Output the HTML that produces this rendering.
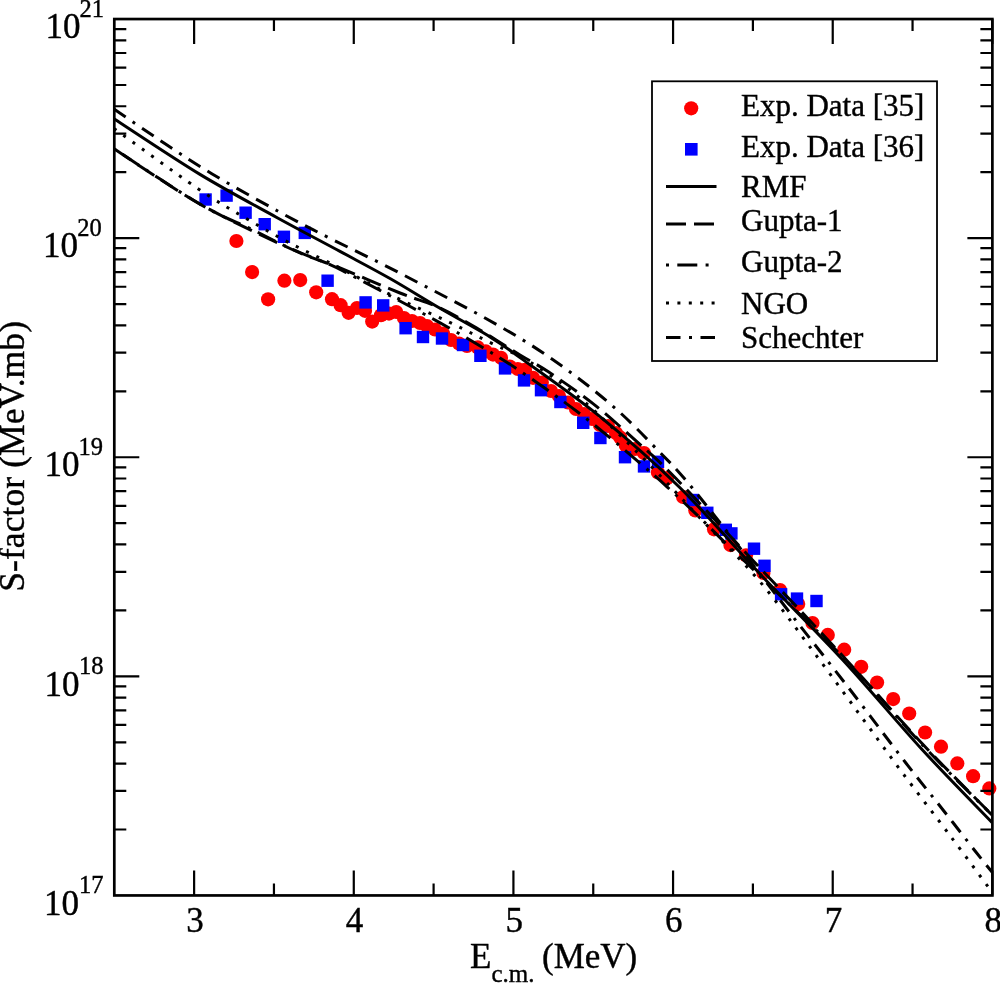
<!DOCTYPE html><html><head><meta charset="utf-8"><style>html,body{margin:0;padding:0;background:#fff;}svg{display:block;will-change:transform;}text{font-family:"Liberation Serif",serif;fill:#000;stroke:#000;stroke-width:0.4;}</style></head><body>
<svg width="1000" height="983" viewBox="0 0 1000 983">
<rect x="0" y="0" width="1000" height="983" fill="#fff"/>
<g fill="#f00"><circle cx="236.4" cy="241" r="7.1"/><circle cx="252.1" cy="272.1" r="7.1"/><circle cx="268.1" cy="299.3" r="7.1"/><circle cx="284.4" cy="280.7" r="7.1"/><circle cx="300.2" cy="280.1" r="7.1"/><circle cx="316.2" cy="292.3" r="7.1"/><circle cx="332" cy="299.2" r="7.1"/><circle cx="340.6" cy="305.2" r="7.1"/><circle cx="348.6" cy="312.8" r="7.1"/><circle cx="357" cy="308" r="7.1"/><circle cx="365" cy="310.8" r="7.1"/><circle cx="372.2" cy="321.6" r="7.1"/><circle cx="381" cy="315.2" r="7.1"/><circle cx="389" cy="313.6" r="7.1"/><circle cx="396.2" cy="312" r="7.1"/><circle cx="404" cy="318" r="7.1"/><circle cx="412" cy="321" r="7.1"/><circle cx="420" cy="323" r="7.1"/><circle cx="427" cy="326" r="7.1"/><circle cx="435" cy="329.5" r="7.1"/><circle cx="443" cy="333.5" r="7.1"/><circle cx="451" cy="340" r="7.1"/><circle cx="459" cy="343.5" r="7.1"/><circle cx="467" cy="346" r="7.1"/><circle cx="477.8" cy="347.4" r="7.1"/><circle cx="485.8" cy="351.4" r="7.1"/><circle cx="493" cy="354.6" r="7.1"/><circle cx="501" cy="357.8" r="7.1"/><circle cx="509.8" cy="366.6" r="7.1"/><circle cx="517.8" cy="369" r="7.1"/><circle cx="525" cy="369.8" r="7.1"/><circle cx="533" cy="377.8" r="7.1"/><circle cx="541.8" cy="382.6" r="7.1"/><circle cx="551" cy="391" r="7.1"/><circle cx="559" cy="396" r="7.1"/><circle cx="568" cy="402.5" r="7.1"/><circle cx="576" cy="409" r="7.1"/><circle cx="584" cy="414" r="7.1"/><circle cx="592" cy="419" r="7.1"/><circle cx="600" cy="425" r="7.1"/><circle cx="608" cy="426" r="7.1"/><circle cx="616" cy="433" r="7.1"/><circle cx="620.2" cy="437.4" r="7.1"/><circle cx="625.8" cy="445.4" r="7.1"/><circle cx="635" cy="449" r="7.1"/><circle cx="644" cy="453" r="7.1"/><circle cx="657.9" cy="472.5" r="7.1"/><circle cx="666.9" cy="478.2" r="7.1"/><circle cx="683.1" cy="497" r="7.1"/><circle cx="695.3" cy="510.5" r="7.1"/><circle cx="714" cy="529.3" r="7.1"/><circle cx="730.4" cy="545.1" r="7.1"/><circle cx="746" cy="555.3" r="7.1"/><circle cx="763.4" cy="573" r="7.1"/><circle cx="780" cy="590" r="7.1"/><circle cx="798.2" cy="604.1" r="7.1"/><circle cx="812.5" cy="623" r="7.1"/><circle cx="827.8" cy="634.9" r="7.1"/><circle cx="844.2" cy="649.7" r="7.1"/><circle cx="861.2" cy="666.8" r="7.1"/><circle cx="877.1" cy="682.5" r="7.1"/><circle cx="893.2" cy="699.1" r="7.1"/><circle cx="909.2" cy="713.5" r="7.1"/><circle cx="925.1" cy="732.5" r="7.1"/><circle cx="941" cy="746.7" r="7.1"/><circle cx="957.3" cy="763.4" r="7.1"/><circle cx="973.1" cy="776.2" r="7.1"/><circle cx="989.3" cy="788.4" r="7.1"/></g>
<g fill="#00f"><rect x="199.4" y="193.3" width="12.4" height="12.4"/><rect x="220.4" y="189.4" width="12.4" height="12.4"/><rect x="239.4" y="206.5" width="12.4" height="12.4"/><rect x="258.5" y="218.0" width="12.4" height="12.4"/><rect x="277.7" y="230.6" width="12.4" height="12.4"/><rect x="298.6" y="226.7" width="12.4" height="12.4"/><rect x="321.4" y="274.5" width="12.4" height="12.4"/><rect x="359.4" y="296.2" width="12.4" height="12.4"/><rect x="377.0" y="299.2" width="12.4" height="12.4"/><rect x="399.4" y="322.0" width="12.4" height="12.4"/><rect x="416.8" y="330.8" width="12.4" height="12.4"/><rect x="435.8" y="332.3" width="12.4" height="12.4"/><rect x="456.8" y="338.8" width="12.4" height="12.4"/><rect x="474.2" y="349.6" width="12.4" height="12.4"/><rect x="498.8" y="362.2" width="12.4" height="12.4"/><rect x="517.8" y="374.2" width="12.4" height="12.4"/><rect x="534.8" y="384.0" width="12.4" height="12.4"/><rect x="554.2" y="395.8" width="12.4" height="12.4"/><rect x="577.0" y="416.6" width="12.4" height="12.4"/><rect x="594.2" y="431.8" width="12.4" height="12.4"/><rect x="618.8" y="451.0" width="12.4" height="12.4"/><rect x="637.8" y="460.2" width="12.4" height="12.4"/><rect x="651.8" y="455.6" width="12.4" height="12.4"/><rect x="686.6" y="493.8" width="12.4" height="12.4"/><rect x="701.1" y="506.6" width="12.4" height="12.4"/><rect x="719.6" y="523.6" width="12.4" height="12.4"/><rect x="725.2" y="527.2" width="12.4" height="12.4"/><rect x="747.8" y="542.5" width="12.4" height="12.4"/><rect x="758.3" y="559.6" width="12.4" height="12.4"/><rect x="774.9" y="588.1" width="12.4" height="12.4"/><rect x="790.8" y="592.4" width="12.4" height="12.4"/><rect x="810.3" y="594.8" width="12.4" height="12.4"/></g>
<g fill="none" stroke="#000" stroke-width="3">
<path d="M114.30 119.00C128.58 128.23 173.00 158.03 200.00 174.40C227.00 190.77 252.97 204.37 276.30 217.20C299.63 230.03 321.05 241.18 340.00 251.40C358.95 261.62 373.33 269.02 390.00 278.50C406.67 287.98 423.33 298.57 440.00 308.30C456.67 318.03 476.67 328.68 490.00 336.90C503.33 345.12 501.67 344.32 520.00 357.60C538.33 370.88 573.33 394.92 600.00 416.60C626.67 438.28 653.33 461.47 680.00 487.70C706.67 513.93 732.87 545.28 760.00 574.00C787.13 602.72 815.87 630.83 842.80 660.00C869.73 689.17 896.73 721.93 921.60 749.00C946.47 776.07 980.27 810.17 992.00 822.40"/>
<path d="M114.30 149.00C128.58 158.17 170.72 187.42 200.00 204.00C229.28 220.58 266.67 237.83 290.00 248.50C313.33 259.17 321.67 260.58 340.00 268.00C358.33 275.42 383.33 286.33 400.00 293.00C416.67 299.67 426.67 301.83 440.00 308.00C453.33 314.17 466.67 322.17 480.00 330.00C493.33 337.83 508.67 348.07 520.00 355.00C531.33 361.93 535.83 363.50 548.00 371.60C560.17 379.70 578.23 391.97 593.00 403.60C607.77 415.23 622.85 429.00 636.60 441.40C650.35 453.80 654.93 456.90 675.50 478.00C696.07 499.10 732.12 538.33 760.00 568.00C787.88 597.67 815.87 626.83 842.80 656.00C869.73 685.17 896.73 716.50 921.60 743.00C946.47 769.50 980.27 803.00 992.00 815.00" stroke-dasharray="20 8"/>
<path d="M114.30 149.00C128.58 158.20 177.05 190.80 200.00 204.20C222.95 217.60 236.73 221.93 252.00 229.40C267.27 236.87 278.63 243.15 291.60 249.00C304.57 254.85 320.07 260.25 329.80 264.50C339.53 268.75 336.30 267.33 350.00 274.50C363.70 281.67 395.75 298.75 412.00 307.50C428.25 316.25 436.00 320.50 447.50 327.00C459.00 333.50 470.08 339.95 481.00 346.50C491.92 353.05 501.92 359.05 513.00 366.30C524.08 373.55 536.50 382.22 547.50 390.00C558.50 397.78 568.47 404.95 579.00 413.00C589.53 421.05 600.37 429.80 610.70 438.30C621.03 446.80 631.62 455.92 641.00 464.00C650.38 472.08 657.23 477.90 667.00 486.80C676.77 495.70 689.48 507.67 699.60 517.40C709.72 527.13 717.63 535.43 727.70 545.20C737.77 554.97 740.82 557.37 760.00 576.00C779.18 594.63 815.87 629.00 842.80 657.00C869.73 685.00 896.73 717.67 921.60 744.00C946.47 770.33 980.27 803.17 992.00 815.00" stroke-dasharray="20 8 3 8" stroke-dashoffset="29"/>
<path d="M114.30 128.70C128.25 138.70 175.95 173.70 198.00 188.70C220.05 203.70 231.77 209.88 246.60 218.70C261.43 227.52 271.43 233.38 287.00 241.60C302.57 249.82 322.00 258.77 340.00 268.00C358.00 277.23 376.72 287.93 395.00 297.00C413.28 306.07 433.80 314.78 449.70 322.40C465.60 330.02 477.02 336.10 490.40 342.70C503.78 349.30 515.07 352.78 530.00 362.00C544.93 371.22 561.67 382.50 580.00 398.00C598.33 413.50 620.00 435.00 640.00 455.00C660.00 475.00 680.03 496.92 700.00 518.00C719.97 539.08 740.58 558.80 759.80 581.50C779.02 604.20 797.07 629.85 815.30 654.20C833.53 678.55 854.63 707.77 869.20 727.60C883.77 747.43 889.23 755.22 902.70 773.20C916.17 791.18 935.12 815.70 950.00 835.50C964.88 855.30 985.00 882.58 992.00 892.00" stroke-dasharray="3 8.4"/>
<path d="M114.30 109.30C128.58 118.83 172.62 149.47 200.00 166.50C227.38 183.53 257.10 199.62 278.60 211.50C300.10 223.38 312.15 229.25 329.00 237.80C345.85 246.35 362.87 254.30 379.70 262.80C396.53 271.30 413.25 280.05 430.00 288.80C446.75 297.55 463.67 306.12 480.20 315.30C496.73 324.48 513.33 333.78 529.20 343.90C545.07 354.02 560.38 364.67 575.40 376.00C590.42 387.33 605.28 399.23 619.30 411.90C633.32 424.57 648.30 440.48 659.50 452.00C670.70 463.52 673.08 465.00 686.50 481.00C699.92 497.00 722.42 525.58 740.00 548.00C757.58 570.42 774.00 592.33 792.00 615.50C810.00 638.67 829.08 662.50 848.00 687.00C866.92 711.50 889.95 742.38 905.50 762.50C921.05 782.62 929.63 792.87 941.30 807.70C952.97 822.53 967.05 840.78 975.50 851.50C983.95 862.22 989.25 868.58 992.00 872.00" stroke-dasharray="14 8.3 3 8.3 14 8.3"/>
</g>
<path d="M194.12 895.45V870.45M194.12 19.05V44.05M353.78 895.45V870.45M353.78 19.05V44.05M513.42 895.45V870.45M513.42 19.05V44.05M673.07 895.45V870.45M673.07 19.05V44.05M832.73 895.45V870.45M832.73 19.05V44.05M992.38 895.45V870.45M992.38 19.05V44.05M273.95 895.45V883.45M273.95 19.05V31.05M433.60 895.45V883.45M433.60 19.05V31.05M593.25 895.45V883.45M593.25 19.05V31.05M752.90 895.45V883.45M752.90 19.05V31.05M912.55 895.45V883.45M912.55 19.05V31.05M114.30 829.49H126.30M992.38 829.49H980.38M114.30 790.91H126.30M992.38 790.91H980.38M114.30 763.54H126.30M992.38 763.54H980.38M114.30 742.31H126.30M992.38 742.31H980.38M114.30 724.96H126.30M992.38 724.96H980.38M114.30 710.29H126.30M992.38 710.29H980.38M114.30 697.58H126.30M992.38 697.58H980.38M114.30 686.38H126.30M992.38 686.38H980.38M114.30 676.35H139.30M992.38 676.35H967.38M114.30 610.39H126.30M992.38 610.39H980.38M114.30 571.81H126.30M992.38 571.81H980.38M114.30 544.44H126.30M992.38 544.44H980.38M114.30 523.21H126.30M992.38 523.21H980.38M114.30 505.86H126.30M992.38 505.86H980.38M114.30 491.19H126.30M992.38 491.19H980.38M114.30 478.48H126.30M992.38 478.48H980.38M114.30 467.28H126.30M992.38 467.28H980.38M114.30 457.25H139.30M992.38 457.25H967.38M114.30 391.29H126.30M992.38 391.29H980.38M114.30 352.71H126.30M992.38 352.71H980.38M114.30 325.34H126.30M992.38 325.34H980.38M114.30 304.11H126.30M992.38 304.11H980.38M114.30 286.76H126.30M992.38 286.76H980.38M114.30 272.09H126.30M992.38 272.09H980.38M114.30 259.38H126.30M992.38 259.38H980.38M114.30 248.18H126.30M992.38 248.18H980.38M114.30 238.15H139.30M992.38 238.15H967.38M114.30 172.19H126.30M992.38 172.19H980.38M114.30 133.61H126.30M992.38 133.61H980.38M114.30 106.24H126.30M992.38 106.24H980.38M114.30 85.01H126.30M992.38 85.01H980.38M114.30 67.66H126.30M992.38 67.66H980.38M114.30 52.99H126.30M992.38 52.99H980.38M114.30 40.28H126.30M992.38 40.28H980.38M114.30 29.08H126.30M992.38 29.08H980.38" stroke="#000" stroke-width="2.2" fill="none"/>
<rect x="114.30" y="19.05" width="878.08" height="876.40" stroke="#000" stroke-width="2.7" fill="none"/>
<text x="194.93" y="932" font-size="35" text-anchor="middle">3</text>
<text x="354.58" y="932" font-size="35" text-anchor="middle">4</text>
<text x="514.22" y="932" font-size="35" text-anchor="middle">5</text>
<text x="673.87" y="932" font-size="35" text-anchor="middle">6</text>
<text x="833.52" y="932" font-size="35" text-anchor="middle">7</text>
<text x="993.17" y="932" font-size="35" text-anchor="middle">8</text>
<text x="45.4" y="38.20" font-size="35">10</text><text x="79.4" y="16.65" font-size="24.5">21</text>
<text x="42.9" y="257.30" font-size="35">10</text><text x="77.2" y="235.75" font-size="24.5">20</text>
<text x="44.4" y="476.40" font-size="35">10</text><text x="78.6" y="454.85" font-size="24.5">19</text>
<text x="44.4" y="695.50" font-size="35">10</text><text x="79.1" y="673.95" font-size="24.5">18</text>
<text x="43.9" y="914.60" font-size="35">10</text><text x="79.1" y="893.05" font-size="24.5">17</text>
<text transform="translate(23.5,591.8) rotate(-90)" font-size="35.5" letter-spacing="0.08">S-factor (MeV.mb)</text>
<text x="470" y="968" font-size="35">E</text><text x="491.5" y="982" font-size="25">c.m.</text><text x="542" y="968" font-size="35">(MeV)</text>
<rect x="652" y="81.3" width="285" height="279.7" stroke="#000" stroke-width="1.8" fill="none"/>
<circle cx="691.2" cy="108.3" r="7.1" fill="#f00"/>
<rect x="685" y="143" width="12.6" height="12.6" fill="#00f"/>
<path d="M666 186.5H716.5" stroke="#000" stroke-width="3" fill="none"/>
<path d="M666 223.9H716" stroke="#000" stroke-width="3" fill="none" stroke-dasharray="20 8"/>
<path d="M666 264.9H716" stroke="#000" stroke-width="3" fill="none" stroke-dasharray="3 8.3 20 8.3"/>
<path d="M666 302.9H716" stroke="#000" stroke-width="3" fill="none" stroke-dasharray="3 8.4"/>
<path d="M666 337.4H716" stroke="#000" stroke-width="3" fill="none" stroke-dasharray="14.5 8.5 3 8.5"/>
<text x="741" y="115.5" font-size="31">Exp. Data [35]</text>
<text x="741" y="157" font-size="31">Exp. Data [36]</text>
<text x="741" y="196.9" font-size="31">RMF</text>
<text x="741" y="230.8" font-size="31">Gupta-1</text>
<text x="741" y="272.4" font-size="31">Gupta-2</text>
<text x="741" y="314" font-size="31">NGO</text>
<text x="741" y="347.8" font-size="31">Schechter</text>
</svg></body></html>
